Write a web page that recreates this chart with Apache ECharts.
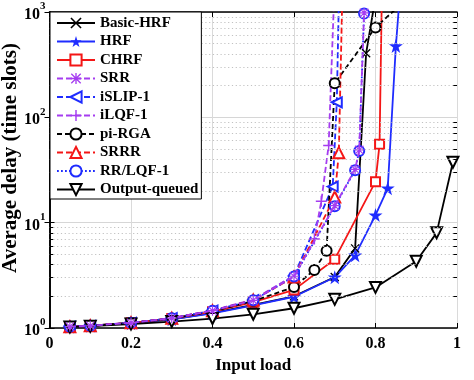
<!DOCTYPE html>
<html><head><meta charset="utf-8">
<script src="https://cdn.jsdelivr.net/npm/echarts@6/dist/echarts.min.js"></script>
<style>html,body{margin:0;padding:0;background:#fff}#c{width:474px;height:380px}</style>
</head><body><div id="c"></div>
<script>
// ---------------- data ----------------
const seriesNames = ['Basic-HRF','HRF','CHRF','SRR','iSLIP-1','iLQF-1','pi-RGA','SRRR','RR/LQF-1','Output-queued'];

const basicHrfLoad  = [0.05,0.1,0.2,0.3,0.4,0.5,0.6,0.7,0.75,0.777,0.8];
const basicHrfDelay = [1.03,1.05,1.11,1.21,1.39,1.66,2.0,3.05,5.7,406,1380];

const hrfLoad  = [0.05,0.1,0.2,0.3,0.4,0.5,0.6,0.7,0.75,0.8,0.83,0.85,0.86];
const hrfDelay = [1.03,1.05,1.11,1.21,1.38,1.64,1.98,3.03,4.9,11.8,21.2,476,1500];

const chrfLoad  = [0.05,0.1,0.2,0.3,0.4,0.5,0.6,0.7,0.8,0.81,0.82];
const chrfDelay = [1.03,1.05,1.12,1.23,1.43,1.76,2.3,4.5,24.5,55.6,20000];

const srrLoad  = [0.05,0.1,0.2,0.3,0.4,0.5,0.6,0.7,0.75,0.76,0.772];
const srrDelay = [1.03,1.05,1.12,1.24,1.46,1.83,3.1,14.5,32,49,980];

const islipLoad  = [0.05,0.1,0.2,0.3,0.4,0.5,0.6,0.695,0.705,0.712];
const islipDelay = [1.03,1.05,1.12,1.24,1.46,1.84,3.12,22,139,3000];

const ilqfLoad  = [0.05,0.1,0.2,0.3,0.4,0.5,0.6,0.65,0.667,0.685,0.7];
const ilqfDelay = [1.03,1.05,1.12,1.24,1.47,1.86,3.15,7.0,16,54,2000];

const piRgaLoad  = [0.05,0.1,0.2,0.3,0.4,0.5,0.6,0.65,0.68,0.7,0.8,0.9];
const piRgaDelay = [1.03,1.05,1.12,1.23,1.44,1.8,2.45,3.56,5.4,211,714,1600];

const srrrLoad  = [0.05,0.1,0.2,0.3,0.4,0.5,0.6,0.7,0.71,0.72];
const srrrDelay = [1.03,1.05,1.12,1.24,1.46,1.84,3.05,17.5,46,2500];

const rrLqfLoad  = [0.05,0.1,0.2,0.3,0.4,0.5,0.6,0.7,0.75,0.76,0.772];
const rrLqfDelay = [1.03,1.05,1.12,1.24,1.46,1.83,3.08,14.3,31.5,48,970];

const oqLoad  = [0.05,0.1,0.2,0.3,0.4,0.5,0.6,0.7,0.8,0.9,0.95,0.99];
const oqDelay = [1.02,1.04,1.09,1.15,1.23,1.35,1.54,1.87,2.43,4.3,8.0,37.5];

const xMin = 0, xMax = 1, xInterval = 0.2;
const yMin = 1, yMax = 1000;
const yMinorValues = [2,3,4,5,6,7,8,9,20,30,40,50,60,70,80,90,200,300,400,500,600,700,800,900];

// ---------------- styling ----------------
const FONT = "'Liberation Serif', 'Times New Roman', serif";
const BLACK = '#000000', BLUE = '#1f2cff', RED = '#f41616', PURPLE = '#a53df0';

const SYM_X = 'path://M0,1L1,0L5,4L9,0L10,1L6,5L10,9L9,10L5,6L1,10L0,9L4,5Z';
const SYM_PLUS = 'path://M4.35,0H5.65V4.35H10V5.65H5.65V10H4.35V5.65H0V4.35H4.35Z';
const SYM_AST = 'path://M4.4,0H5.6V4.4H10V5.6H5.6V10H4.4V5.6H0V4.4H4.4Z M1.2,0.4L5,4.2L8.8,0.4L9.6,1.2L5.8,5L9.6,8.8L8.8,9.6L5,5.8L1.2,9.6L0.4,8.8L4.2,5L0.4,1.2Z';
const SYM_STAR = 'path://M50,2L61,36L97,36L68,57L79,92L50,71L21,92L32,57L3,36L39,36Z';

function pairs(xs, ys){ return xs.map((x,i)=>[x, ys[i]]); }

function mkSeries(name, xs, ys, color, lineType, symbol, size, filled, extra){
  return Object.assign({
    name, type:'line', data: pairs(xs, ys),
    xAxisIndex:0, yAxisIndex:0,
    symbol, symbolSize:size, showAllSymbol:true,
    lineStyle:{color, width:1.8, type:lineType},
    itemStyle: filled ? {color, borderWidth:0} : {color, borderColor:color, borderWidth:1.6}
  }, extra||{});
}

// minor grid (dotted) and minor ticks, drawn through the axes by markLine
const minorGrid = yMinorValues.map(v => ({yAxis: v}));
const minorTicksLeft = yMinorValues.map(v => [{coord:[xMin, v]}, {coord:[xMin + 0.009, v]}]);
const minorTicksRight = yMinorValues.map(v => [{coord:[xMax - 0.009, v]}, {coord:[xMax, v]}]);

const gridMarkLine = {
  symbol:['none','none'], label:{show:false},
  lineStyle:{color:'#c2c2c2', width:1, type:[1.2,2.6]},
  data: minorGrid
};
const tickMarkLine = {
  symbol:['none','none'], label:{show:false},
  lineStyle:{color:'#000', width:1, type:'solid'},
  data: minorTicksLeft.concat(minorTicksRight)
};

const series = [
  mkSeries('Basic-HRF', basicHrfLoad, basicHrfDelay, BLACK, 'solid', SYM_X, 9, true, {markLine: gridMarkLine}),
  mkSeries('HRF', hrfLoad, hrfDelay, BLUE, 'solid', SYM_STAR, 14, true),
  mkSeries('CHRF', chrfLoad, chrfDelay, RED, 'solid', 'emptyRect', 9, false),
  mkSeries('SRR', srrLoad, srrDelay, PURPLE, [6,3], SYM_AST, 10, true, {z:4}),
  mkSeries('iSLIP-1', islipLoad, islipDelay, BLUE, [6,3], 'emptyTriangle', 10, false, {symbolRotate:90}),
  mkSeries('iLQF-1', ilqfLoad, ilqfDelay, PURPLE, [6,3], SYM_PLUS, 11, true),
  mkSeries('pi-RGA', piRgaLoad, piRgaDelay, BLACK, [5,3], 'emptyCircle', 10, false),
  mkSeries('SRRR', srrrLoad, srrrDelay, RED, [6,3], 'emptyTriangle', 11, false),
  mkSeries('RR/LQF-1', rrLqfLoad, rrLqfDelay, BLUE, [1.8,2.2], 'emptyCircle', 10, false),
  mkSeries('Output-queued', oqLoad, oqDelay, BLACK, 'solid', 'emptyTriangle', 11, false, {symbolRotate:180, markLine: tickMarkLine})
];

const axisLineStyle = {show:true, lineStyle:{color:'#000', width:1.6}};
const option = {
  animation:false,
  backgroundColor:'#fff',
  grid:{left:49.5, right:17, top:12, bottom:52, containLabel:false},
  xAxis:[{
    type:'value', min:xMin, max:xMax, interval:xInterval, position:'bottom',
    axisLine:axisLineStyle,
    axisTick:{show:true, inside:true, length:5, lineStyle:{color:'#000', width:1}},
    axisLabel:{color:'#000', fontFamily:FONT, fontWeight:'bold', fontSize:16, margin:8},
    splitLine:{show:true, lineStyle:{color:'#dadada', width:1}},
    name:'Input load', nameLocation:'middle', nameGap:29,
    nameTextStyle:{color:'#000', fontFamily:FONT, fontWeight:'bold', fontSize:17}
  },{
    type:'value', min:xMin, max:xMax, interval:xInterval, position:'top',
    axisLine:axisLineStyle,
    axisTick:{show:true, inside:true, length:5, lineStyle:{color:'#000', width:1}},
    axisLabel:{show:false}, splitLine:{show:false}
  }],
  yAxis:[{
    type:'log', logBase:10, min:yMin, max:yMax, position:'left',
    axisLine:axisLineStyle,
    axisTick:{show:true, inside:true, length:5, lineStyle:{color:'#000', width:1}},
    axisLabel:{
      margin:4,
      formatter: v => '{b|10}{e|' + Math.round(Math.log10(v)) + '}',
      rich:{
        b:{fontFamily:FONT, fontWeight:'bold', fontSize:16, color:'#000', lineHeight:22, verticalAlign:'bottom'},
        e:{fontFamily:FONT, fontWeight:'bold', fontSize:11, color:'#000', lineHeight:11, verticalAlign:'top'}
      }
    },
    splitLine:{show:true, lineStyle:{color:'#d6d6d6', width:1}}
  },{
    type:'log', logBase:10, min:yMin, max:yMax, position:'right',
    axisLine:axisLineStyle,
    axisTick:{show:true, inside:true, length:5, lineStyle:{color:'#000', width:1}},
    axisLabel:{show:false}, splitLine:{show:false}
  }],
  legend:{
    show:true, data:seriesNames, orient:'vertical', left:50, top:12,
    padding:[3.5,3,2,6], itemWidth:38, itemHeight:14, itemGap:3.5,
    backgroundColor:'#fff', borderColor:'#000', borderWidth:1, borderRadius:0,
    textStyle:{color:'#000', fontFamily:FONT, fontWeight:'bold', fontSize:15, lineHeight:14},
    selectedMode:false, z:10
  },
  graphic:[{
    type:'text', x:11, y:158, rotation:Math.PI/2, z:10,
    style:{text:'Average delay (time slots)', align:'center', verticalAlign:'middle',
      font:"bold 21px 'Liberation Serif', serif", fill:'#000'}
  }],
  series
};

const chart = echarts.init(document.getElementById('c'), null, {renderer:'canvas'});
chart.setOption(option);
</script>
</body></html>
